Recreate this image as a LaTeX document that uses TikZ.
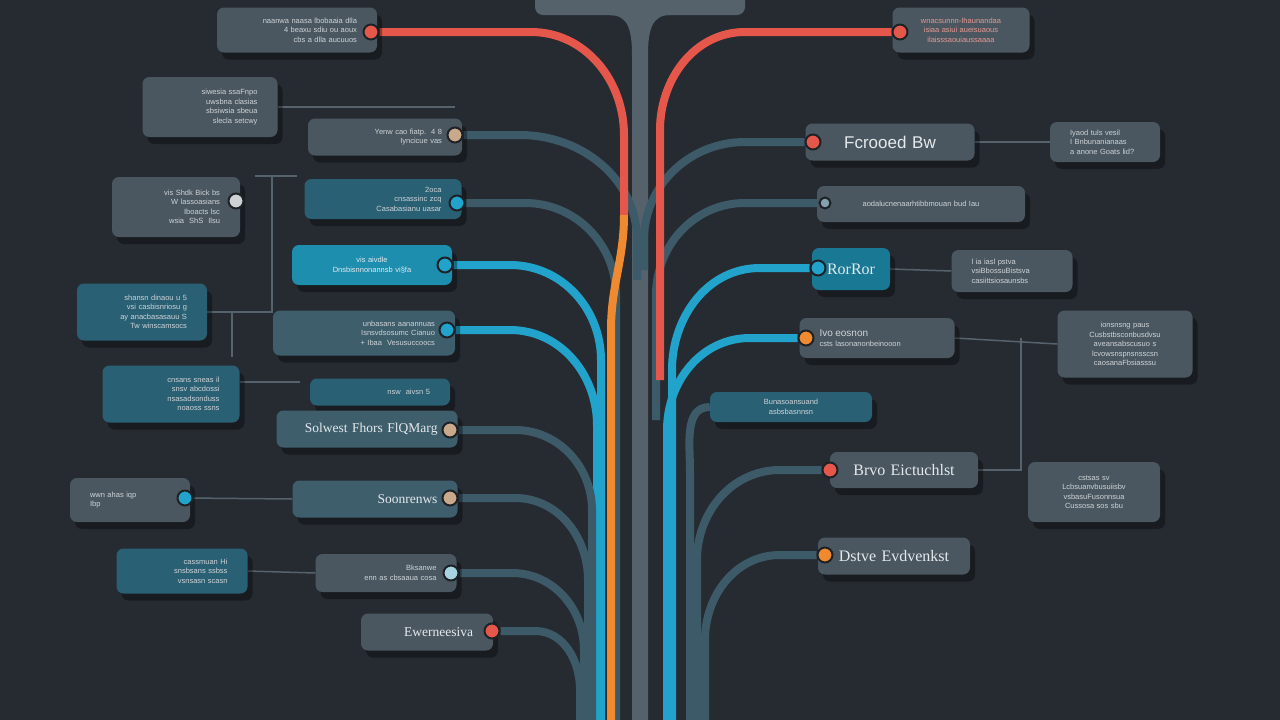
\documentclass[tikz,border=0pt]{standalone}
\usepackage{fontspec}
\setmainfont{Liberation Serif}
\setsansfont{Liberation Sans}
\usetikzlibrary{shadows}

\definecolor{bgc}{HTML}{262B31}
\definecolor{slatebox}{HTML}{4B5760}
\definecolor{tealbox}{HTML}{2A6074}
\definecolor{cyanbox}{HTML}{1E8EAF}
\definecolor{mixbox}{HTML}{3F5E6C}
\definecolor{trunkc}{HTML}{55626C}
\definecolor{wirec}{HTML}{3D5A69}
\definecolor{bluew}{HTML}{21A3CB}
\definecolor{redw}{HTML}{E5574B}
\definecolor{orangew}{HTML}{F08A30}
\definecolor{thinc}{HTML}{56636C}
\definecolor{txt}{HTML}{E4E9EC}
\definecolor{ring}{HTML}{1E2226}
\definecolor{beige}{HTML}{C8A98C}
\definecolor{paleb}{HTML}{A8D4E2}

\pgfdeclarelayer{bg}
\pgfdeclarelayer{wires}
\pgfsetlayers{bg,wires,main}

\begin{document}
\begin{tikzpicture}[x=1pt,y=-1pt,
    box/.style={fill=#1, rounded corners=7pt, inner xsep=20pt, inner ysep=3pt, text=txt,
      drop shadow={fill=black, opacity=0.35, shadow xshift=5pt, shadow yshift=-7pt}},
    box/.default=slatebox,
    sm/.style={font=\sffamily\fontsize{7.5}{9.5}\selectfont, text=txt!85!slatebox},
    big/.style={font=\fontsize{16}{18}\selectfont},
    mid/.style={font=\fontsize{13.5}{15}\selectfont},
    dot/.style={circle, fill=#1, draw=ring, line width=2pt, minimum size=15pt, inner sep=0pt},
    wire/.style={draw=#1, line width=8pt},
    thin/.style={draw=thinc, line width=1.5pt}]
\begin{pgfonlayer}{bg}
  \fill[bgc] (0,0) rectangle (1280,720);
\end{pgfonlayer}
\useasboundingbox (0,0) rectangle (1280,720);

% hub on top
\node[fill=trunkc, rounded corners=8pt, minimum width=210pt, minimum height=36pt] (hub) at (640,-3) {};

% left side
\node[box, sm, text width=120pt, align=right, minimum height=45pt] (L1) at (297,30) {naanwa naasa lbobaaia dlla\\4 beaxu sdiu ou aoux\\cbs a dlla aucuuos};
\node[box, sm, text width=95pt, align=right, minimum height=60pt] (L1b) at (210,107) {siwesia ssaFnpo\\uwsbna clasias\\sbsiwsia sbeua\\slecla setcwy};
\node[box, sm, text width=114pt, align=right, minimum height=37pt] (L2) at (385,137) {Yenw cao fiatp.\ \ 4 8\\Iyncicue vas};
\node[box, sm, text width=88pt, align=right, minimum height=60pt] (L3) at (176,207) {vis Shdk Bick bs\\W lassoasians\\Iboacts lsc\\wsia\ \ ShS\ \ Ilsu};
\node[box=tealbox, sm, text width=117pt, align=right, minimum height=40pt] (L4) at (383,199) {2oca\\cnsassinc zcq\\Casabasianu uasar};
\node[box=cyanbox, sm, text=txt, text width=120pt, align=center, minimum height=40pt] (L5) at (372,265) {vis aivdle\\Dnsbisnnonannsb vi§fa};
\node[box=tealbox, sm, text width=90pt, align=right, minimum height=57pt] (L6) at (142,312) {shansn dinaou u 5\\vsi casbisnriosu g\\ay anacbasasauu S\\Tw winscamsocs};
\node[box=mixbox, sm, text width=142pt, align=right, minimum height=45pt] (L7) at (364,333) {unbasans aanannuas\\Isnsvdsosumc Cianuo\\+ Ibaa\ \ Vesusuccoocs};
\node[box=tealbox, sm, text width=97pt, align=right, minimum height=57pt] (L8) at (171,394) {cnsans sneas il\\snsv abcdossi\\nsasadsonduss\\noaoss ssns};
\node[box=tealbox, sm, text width=100pt, align=right, minimum height=27pt] (L9) at (380,392) {nsw\ \ aivsn 5};
\node[box=mixbox, mid, text width=141pt, align=right, minimum height=37pt] (L10) at (367,429) {Solwest Fhors FlQMarg};
\node[box, sm, text width=80pt, align=left, minimum height=44pt] (L11) at (130,500) {wwn ahas iqp\\Ibp};
\node[box=mixbox, mid, text width=125pt, align=right, minimum height=37pt] (L12) at (375,499) {Soonrenws};
\node[box=tealbox, sm, text width=91pt, align=right, minimum height=45pt] (L13) at (182,571) {cassmuan Hi\\snsbsans ssbss\\vsnsasn scasn};
\node[box, sm, text width=101pt, align=right, minimum height=38pt] (L14) at (386,573) {Bksanwe\\enn as cbsaaua cosa};
\node[box, mid, text width=92pt, align=right, minimum height=37pt] (L15) at (427,632) {Ewerneesiva};

% right side
\node[box, sm, text=redw!55!txt, text width=97pt, align=center, minimum height=45pt] (R1) at (961,30) {wnacsunnn-Ihaunandaa\\isiaa asiui aueisuaous\\ilaisssaouiaussaaaa};
\node[box, font=\sffamily\fontsize{17}{19}\selectfont, text width=129pt, align=center, minimum height=37pt] (R2) at (890,142) {Fcrooed Bw};
\node[box, sm, text width=70pt, align=left, minimum height=40pt] (R2b) at (1105,142) {Iyaod tuls vesil\\I Bnbunanianaas\\a anone Goats lid?};
\node[box, sm, text width=168pt, align=center, minimum height=36pt] (R3) at (921,204) {aodalucnenaarhtibbmouan bud Iau};
\node[box=cyanbox!85!black, big, inner xsep=12pt, text width=54pt, align=center, minimum height=42pt] (R4) at (851,269) {RorRor};
\node[box, sm, text width=81pt, align=left, minimum height=42pt] (R4b) at (1012,271) {l ia iasl pstva\\vsiBbossuBistsva\\casiittsiosaunsbs};
\node[box, sm, text width=115pt, align=left, minimum height=40pt] (R5) at (877,338) {{\fontsize{10}{12}\selectfont Ivo eosnon}\\csts lasonanonbeinooon};
\node[box, sm, text width=95pt, align=center, minimum height=67pt] (R5b) at (1125,344) {ionsnsng paus\\Cusbstbsconbusdvsu\\aveansabscusuo s\\lcvowsnspnsnsscsn\\caosanaFbsiasssu};
\node[box=tealbox, sm, text width=122pt, align=center, minimum height=30pt] (R6) at (791,407) {Bunasoansuand\\asbsbasnnsn};
\node[box, big, text width=108pt, align=center, minimum height=36pt] (R7) at (904,470) {Brvo Eictuchlst};
\node[box, sm, text width=92pt, align=center, minimum height=60pt] (R7b) at (1094,492) {cstsas sv\\Lcbsuanvbusuiisbv\\vsbasuFusonnsua\\Cussosa sos sbu};
\node[box, big, text width=112pt, align=center, minimum height=37pt] (R8) at (894,556) {Dstve Evdvenkst};

% dots
\node[dot=redw] (dL1) at (371,32) {};
\node[dot=beige] (dL2) at (455,135) {};
\node[dot=txt!90!black] (dL3) at (236,201) {};
\node[dot=bluew] (dL4) at (457,203) {};
\node[dot=bluew] (dL5) at (445,265) {};
\node[dot=bluew] (dL7) at (447,330) {};
\node[dot=beige] (dL10) at (450,430) {};
\node[dot=bluew] (dL11) at (185,498) {};
\node[dot=beige] (dL12) at (450,498) {};
\node[dot=paleb] (dL14) at (451,573) {};
\node[dot=redw] (dL15) at (492,631) {};
\node[dot=redw] (dR1) at (900,32) {};
\node[dot=redw] (dR2) at (813,142) {};
\node[dot=paleb!60!slatebox, minimum size=11pt] (dR3) at (825,203) {};
\node[dot=bluew] (dR4) at (818,268) {};
\node[dot=orangew] (dR5) at (806,338) {};
\node[dot=redw] (dR7) at (830,470) {};
\node[dot=orangew] (dR8) at (825,555) {};

\begin{pgfonlayer}{wires}
  % trunk
  \fill[trunkc] (hub.south) ++(-30,0) .. controls (628,15) and (632,30) .. (632,55) -- (632,720) -- (648,720) -- (648,55) .. controls (648,30) and (652,15) .. (670,15) -- cycle;
  \coordinate (jL) at (624,215);
  \coordinate (jR) at (660,380);
  % left wires
  \draw[wire=wirec] (dL2) -- ++(65,0) to[out=0,in=90] (637,240) -- (637,280);
  \draw[wire=wirec] (dL4) -- ++(68,0) to[out=0,in=90] (616,295) -- (616,720);
  \draw[wire=bluew] (dL5) -- ++(65,0) to[out=0,in=90] (601,360) -- (601,720);
  \draw[wire=bluew] (dL7) -- ++(63,0) to[out=0,in=90] (597,425) -- (597,720);
  \draw[wire=wirec] (dL10) -- ++(65,0) to[out=0,in=90] (592,510) -- (592,720);
  \draw[wire=wirec] (dL12) -- ++(65,0) to[out=0,in=90] (588,580) -- (588,720);
  \draw[wire=wirec] (dL14) -- ++(61,0) to[out=0,in=90] (584,650) -- (584,720);
  \draw[wire=wirec] (dL15) -- ++(43,0) to[out=0,in=90] (580,690) -- (580,720);
  \draw[wire=redw] (dL1) -- ++(160,0) to[out=0,in=90] (624,135) -- (jL);
  \draw[wire=orangew] (jL) to[out=270,in=90] (611,330) -- (611,720);
  % right wires
  \draw[wire=wirec] (dR2) -- ++(-68,0) to[out=180,in=90] (644,240) -- (644,270);
  \draw[wire=wirec] (dR3) -- ++(-80,0) to[out=180,in=90] (656,295) -- (656,420);
  \draw[wire=redw] (dR1) -- ++(-155,0) to[out=180,in=90] (660,130) -- (jR);
  \draw[wire=bluew] (dR4) -- ++(-58,0) to[out=180,in=90] (672,370) -- (672,720);
  \draw[wire=bluew] (dR5) -- ++(-56,0) to[out=180,in=90] (667,430) -- (667,720);
  \draw[wire=wirec] (R6.west) to[out=180,in=90] (690,470) -- (690,720);
  \draw[wire=wirec] (dR7) -- ++(-50,0) to[out=180,in=90] (697,560) -- (697,720);
  \draw[wire=wirec] (dR8) -- ++(-45,0) to[out=180,in=90] (705,640) -- (705,720);
  % thin links
  \coordinate (kL) at (272,176);
  \coordinate (kR) at (1021,338);
  \draw[thin] (L1b.east) -- ++(177,0);
  \draw[thin] (kL) ++(-17,0) -- ++(42,0);
  \draw[thin] (kL) -- (L6.east -| kL);
  \draw[thin] (L6.east) -- (L6.east -| L7.west);
  \draw[thin] (L6.east -| L6.south east) ++(25,0) -- ++(0,45);
  \draw[thin] ([yshift=12pt]L8.east) -- ++(60,0);
  \draw[thin] (dL11) -- (L12.west);
  \draw[thin] (L13.east) -- (L14.west);
  \draw[thin] (R2.east) -- (R2b.west);
  \draw[thin] (R4.east) -- (R4b.west);
  \draw[thin] (R5.east) -- (R5b.west);
  \draw[thin] (kR) |- (R7.east);
\end{pgfonlayer}
\end{tikzpicture}
\end{document}
